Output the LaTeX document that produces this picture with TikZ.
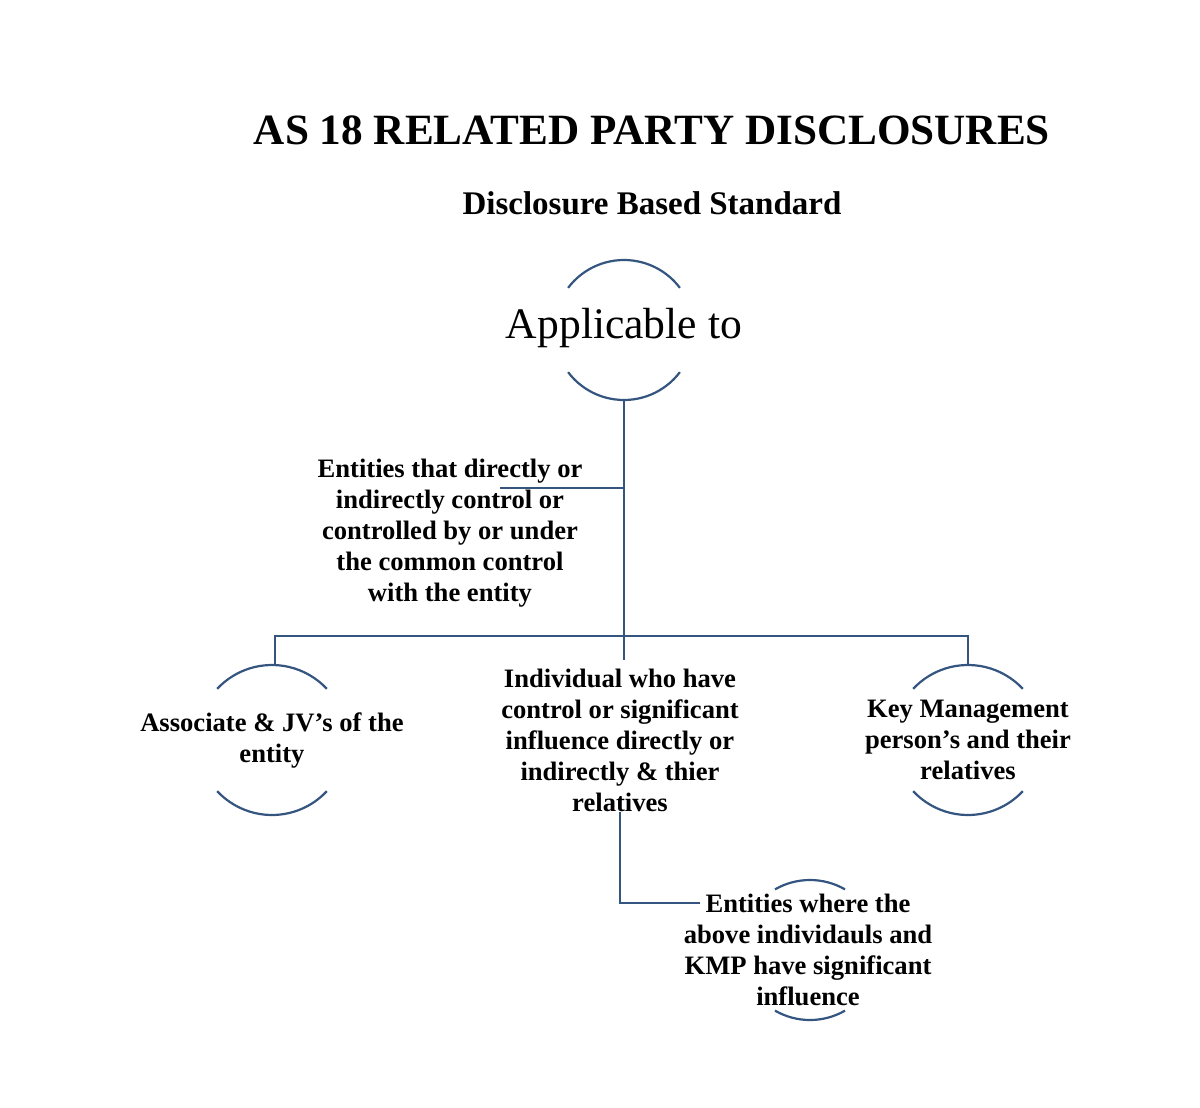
\documentclass[tikz,border=0pt]{standalone}
\usepackage{fontspec}
\setmainfont{Liberation Serif}
\usetikzlibrary{calc}
\definecolor{lc}{HTML}{34557F}
\begin{document}
\begin{tikzpicture}[x=0.5pt,y=-0.5pt]
\tikzset{ln/.style={draw=lc,line width=1.1pt},
 arcs/.style={draw=lc,line width=1.1pt},
 txt/.style={align=center,font=\fontsize{13.3}{15.5}\selectfont\bfseries,inner sep=0pt}}
\useasboundingbox (0,0) rectangle (1200,1108);
\node[font=\fontsize{21.6}{24}\selectfont\bfseries] (title) at (652,130) {AS 18 RELATED PARTY DISCLOSURES};
\node[font=\fontsize{16.5}{18}\selectfont\bfseries] (sub) at (652,203) {Disclosure Based Standard};
\node[font=\fontsize{21.8}{24}\selectfont,inner sep=0pt] (app) at (624,328) {Applicable to};
\coordinate (c0) at (624,330);
\draw[arcs] ($(c0)+(217:70)$) arc[start angle=217,end angle=323,radius=70];
\draw[arcs] ($(c0)+(37:70)$) arc[start angle=37,end angle=143,radius=70];
\coordinate (t0) at (624,400);
\coordinate (j1) at (624,488);
\coordinate (j2) at (624,636);
\coordinate (l1) at (275,636);
\coordinate (r1) at (968,636);
\coordinate (l2) at (275,665);
\coordinate (r2) at (968,665);
\coordinate (e1) at (500,488);
\draw[ln] (t0) -- (j2);
\draw[ln] (j1) -- (e1);
\draw[ln] (l2) -- (l1) -- (r1) -- (r2);
\draw[ln] (j2) -- (624,660);
\node[txt] (ent) at (450,533) {Entities that directly or\\indirectly control or\\controlled by or under\\the common control\\with the entity};
% left
\node[txt] (assoc) at (272,740) {Associate \& JV's of the\\entity};
\coordinate (cl) at (272,740);
\draw[arcs] ($(cl)+(223:75)$) arc[start angle=223,end angle=317,radius=75];
\draw[arcs] ($(cl)+(43:75)$) arc[start angle=43,end angle=137,radius=75];
% right
\node[txt] (kmp) at (968,740) {Key Management\\person's and their\\relatives};
\coordinate (cr) at (968,740);
\draw[arcs] ($(cr)+(223:75)$) arc[start angle=223,end angle=317,radius=75];
\draw[arcs] ($(cr)+(43:75)$) arc[start angle=43,end angle=137,radius=75];
% middle
\node[txt] (ind) at (620,740) {Individual who have\\control or significant\\influence directly or\\indirectly \& thier\\relatives};
\coordinate (m1) at (620,903);
\coordinate (m2) at (700,903);
\draw[ln] (ind.south) -- (m1) -- (m2);
\node[txt] (bot) at (808,950) {Entities where the\\above individauls and\\KMP have significant\\influence};
\coordinate (cb) at (810,950);
\draw[arcs] ($(cb)+(240:70)$) arc[start angle=240,end angle=300,radius=70];
\draw[arcs] ($(cb)+(60:70)$) arc[start angle=60,end angle=120,radius=70];
\end{tikzpicture}
\end{document}
